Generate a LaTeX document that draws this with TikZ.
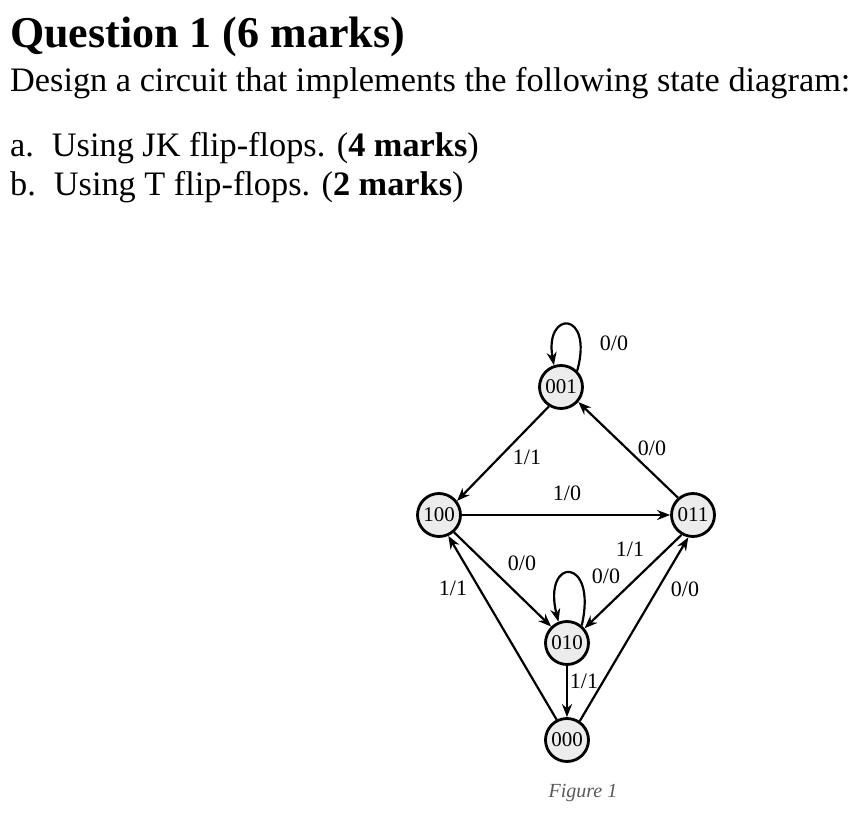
\documentclass[tikz,border=0pt]{standalone}
\usepackage{fontspec}
\setmainfont{Liberation Serif}
\usetikzlibrary{arrows.meta}
\begin{document}
\begin{tikzpicture}[x=1pt,y=-1pt,
  st/.style={circle,draw,line width=2.8pt,fill=gray!15,minimum size=43pt,inner sep=0pt,font=\fontsize{21}{21}\selectfont},
  tr/.style={line width=2.2pt,-{Stealth[length=13pt,width=10pt]}},
  lbl/.style={font=\fontsize{22}{22}\selectfont,inner sep=0pt},
  txt/.style={anchor=base west,inner sep=0pt}]
\useasboundingbox (0,0) rectangle (868,840);
% text
\node[txt,font=\fontsize{44}{44}\selectfont\bfseries] (q) at (10,48) {Question 1 (6 marks)};
\node[txt,font=\fontsize{34.3}{34}\selectfont] (d) at (10,92) {Design a circuit that implements the following state diagram:};
\node[txt,font=\fontsize{34.3}{34}\selectfont] (a) at (10,157) {a.\hspace{18pt}Using JK flip-flops. (\textbf{4 marks})};
\node[txt,font=\fontsize{34.3}{34}\selectfont] (b) at (10,196) {b.\hspace{18pt}Using T flip-flops. (\textbf{2 marks})};
% states
\node[st] (s001) at (561,387) {001};
\node[st] (s100) at (439,515) {100};
\node[st] (s011) at (693,515) {011};
\node[st] (s010) at (567,643) {010};
\node[st] (s000) at (567,740) {000};
% transitions
\draw[tr] (s001.45) .. controls (594,310) and (544,310) .. (s001.108);
\draw[tr] (s001.-122) -- (s100.38);
\draw[tr] (s011.131) -- (s001.-41);
\draw[tr] (s100.east) -- (s011.west);
\draw[tr] (s100.-49) -- (s010.134);
\draw[tr] (s011.-120) -- (s010.40);
\draw[tr] (s010.50) .. controls (598,556) and (542,556) .. (s010.112);
\draw[tr] (s010.south) -- (s000.north);
\draw[tr] (s000.117) -- (s100.-66);
\draw[tr] (s000.56) -- (s011.-102);
% labels
\node[lbl] (l1) at (614,343) {0/0};
\node[lbl] (l2) at (527,457) {1/1};
\node[lbl] (l3) at (652,448) {0/0};
\node[lbl] (l4) at (567,493) {1/0};
\node[lbl] (l5) at (522,563) {0/0};
\node[lbl] (l6) at (453,588) {1/1};
\node[lbl] (l7) at (630,549) {1/1};
\node[lbl] (l8) at (606,576) {0/0};
\node[lbl] (l9) at (685,589) {0/0};
\node[lbl] (l10) at (584,681) {1/1};
\node[font=\fontsize{20}{20}\selectfont\itshape,text=gray!70!black] (cap) at (583,793) {Figure 1};
\end{tikzpicture}
\end{document}
